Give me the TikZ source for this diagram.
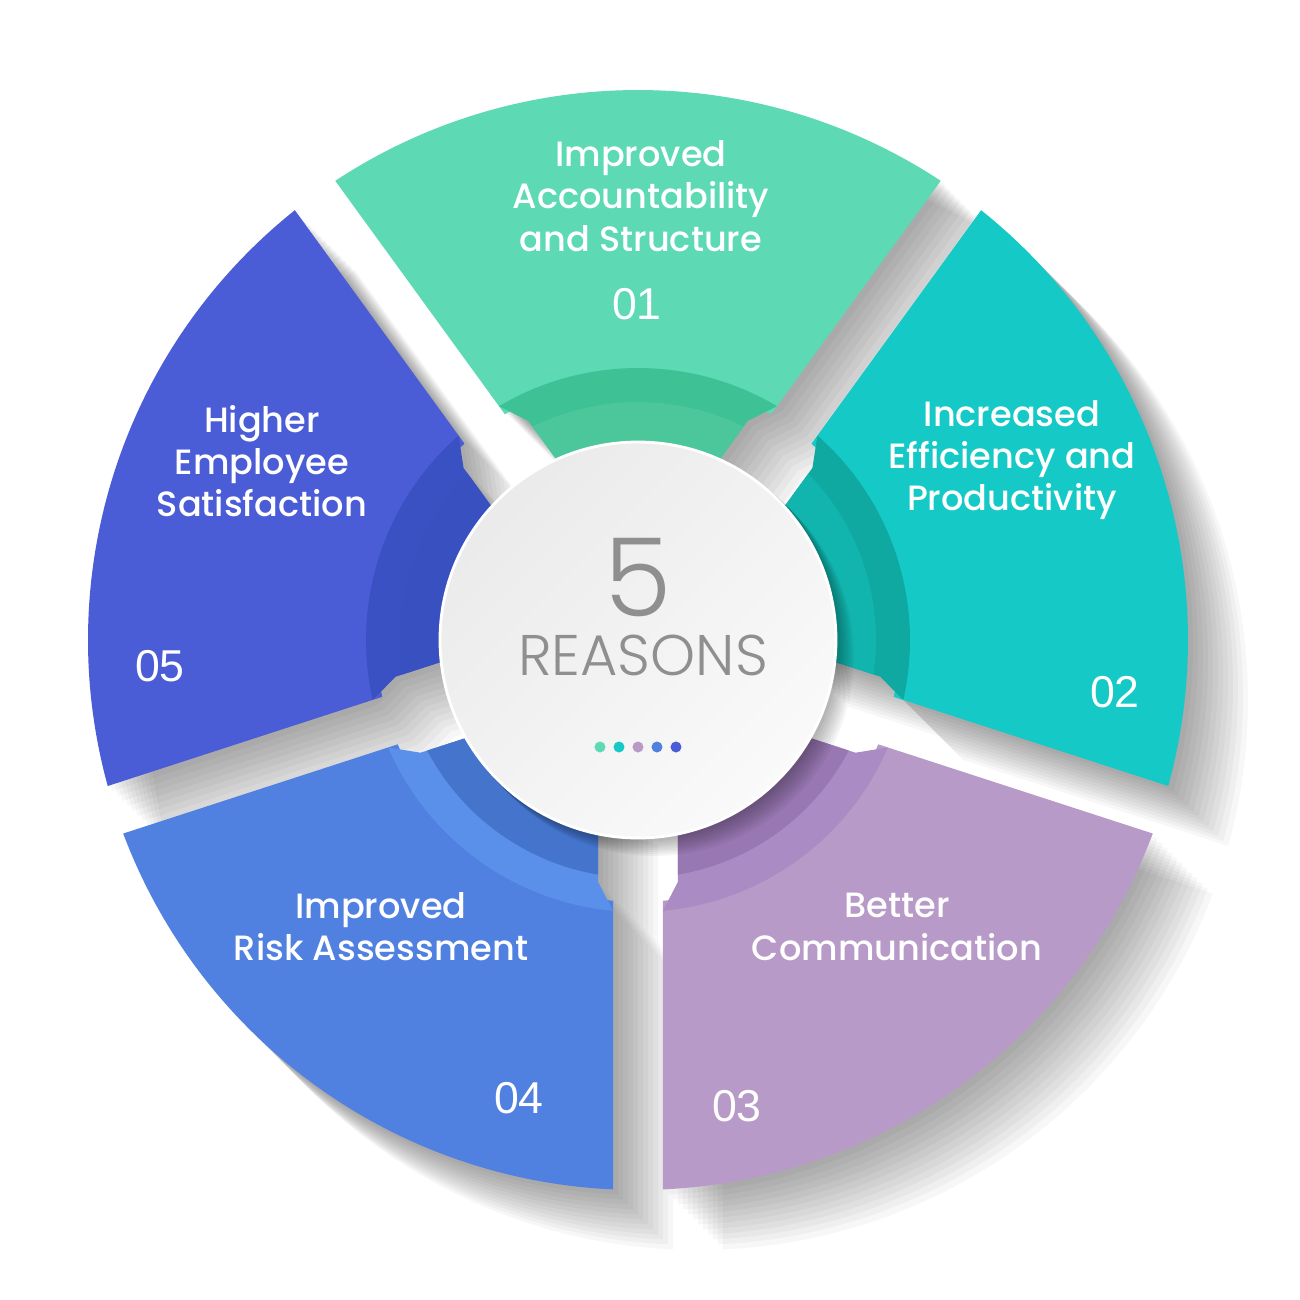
\documentclass[tikz,border=0pt]{standalone}
\usepackage{fontspec}
\newfontfamily\labelfont{Poppins Medium}
\newfontfamily\thinfont{Poppins Light}
\newfontfamily\numfont{Liberation Sans}
\usetikzlibrary{positioning}

\definecolor{mintA}{HTML}{5DD9B4}
\definecolor{mintB}{HTML}{3EC295}
\definecolor{mintC}{HTML}{4CC79C}
\definecolor{tealA}{HTML}{15C9C6}
\definecolor{tealB}{HTML}{10A9A1}
\definecolor{tealC}{HTML}{12B5AE}
\definecolor{lilacA}{HTML}{B89AC8}
\definecolor{lilacB}{HTML}{AA8BC3}
\definecolor{lilacC}{HTML}{9877B3}
\definecolor{blueA}{HTML}{5080E0}
\definecolor{blueB}{HTML}{5B90EA}
\definecolor{blueC}{HTML}{4474CC}
\definecolor{indigoA}{HTML}{4A5DD6}
\definecolor{indigoB}{HTML}{3951C2}
\definecolor{indigoC}{HTML}{3850C0}
\definecolor{hubtext}{HTML}{8F8F8F}

% corner angles of one petal (mid angle #1, 72 deg wide)
\newcommand{\petalangles}[1]{%
	\pgfmathsetmacro{\pa}{#1-36+asin(40/150)}%
	\pgfmathsetmacro{\pb}{#1-36+asin(40/245)}%
	\pgfmathsetmacro{\pc}{#1-36+asin(25/272)}%
	\pgfmathsetmacro{\pd}{#1-36+asin(25/550)}%
	\pgfmathsetmacro{\pe}{#1-36+asin(25/262)}%
	\pgfmathsetmacro{\ra}{#1-36+asin(40/238)}%
	\pgfmathsetmacro{\qa}{#1+36-asin(40/150)}%
	\pgfmathsetmacro{\qb}{#1+36-asin(40/245)}%
	\pgfmathsetmacro{\qc}{#1+36-asin(25/272)}%
	\pgfmathsetmacro{\qd}{#1+36-asin(25/550)}%
	\pgfmathsetmacro{\qe}{#1+36-asin(25/262)}%
	\pgfmathsetmacro{\rb}{#1+36-asin(40/238)}%
}

\tikzset{
	lbl/.style={text=white, align=center, font=\labelfont\fontsize{10}{12}\selectfont},
	num/.style={text=white, font=\numfont\fontsize{12.7}{14}\selectfont},
}

\begin{document}
\begin{tikzpicture}[x=0.1mm, y=0.1mm]
	\path[use as bounding box, fill=white] (-638,-660) rectangle (662,640);
	% ---- soft shadows ----
	\foreach \ang in {90,18,-54,-126,162}{
		\petalangles{\ang}
		\foreach \k in {1,...,12}{
			\fill[black, opacity=0.03, shift={(\k*5,-\k*5)}] (\pa:150) -- (\pb:245) -- (\pc:272) -- (\pd:550) arc[start angle=\pd, end angle=\qd, radius=550] -- (\qc:272) -- (\qb:245) -- (\qa:150) arc[start angle=\qa, end angle=\pa, radius=150] -- cycle;
		}
	}
	% ---- petals ----
	\foreach \ang/\outc/\stripec/\innc in {90/mintA/mintB/mintC, 18/tealA/tealB/tealC, -54/lilacA/lilacB/lilacC, -126/blueA/blueB/blueC, 162/indigoA/indigoB/indigoC}{
		\petalangles{\ang}
		\fill[\outc] (\pe:262) -- (\pd:550) arc[start angle=\pd, end angle=\qd, radius=550] -- (\qe:262) arc[start angle=\qe, end angle=\pe, radius=262] -- cycle;
		\fill[\stripec] (\pa:150) -- (\pb:245) -- (\pc:272) arc[start angle=\pc, end angle=\qc, radius=272] -- (\qb:245) -- (\qa:150) arc[start angle=\qa, end angle=\pa, radius=150] -- cycle;
		\fill[\innc] (\pa:150) -- (\ra:238) arc[start angle=\ra, end angle=\rb, radius=238] -- (\qa:150) arc[start angle=\qa, end angle=\pa, radius=150] -- cycle;
	}
	% ---- hub ----
	\foreach \k in {1,...,8}{
		\fill[black, opacity=0.04] (\k*2,-\k*2) circle[radius=200];
	}
	\node (hub) [circle, minimum size=39.6mm, inner sep=0pt, top color=black!8, bottom color=black!2, shading angle=45, draw=white, line width=0.8pt] at (0,0) {};
	\node (five) [text=hubtext, inner sep=0pt, font=\thinfont\fontsize{31}{31}\selectfont] at (0,62) {5};
	\node (reasons) [text=hubtext, inner sep=0pt, font=\thinfont\fontsize{16.3}{17}\selectfont] at (5,-15) {REASONS};
	\foreach \c [count=\i] in {mintA, tealA, lilacA, blueA, indigoA}{
		\fill[\c] ({(\i-3)*19},-107) circle[radius=5.5];
	}
	% ---- labels ----
	\node (l1) [lbl] at (3,444) {Improved\\Accountability\\and Structure};
	\node (n1) [num] at (-1,336) {01};
	\node (l2) [lbl] at (374,180) {Increased\\Efficiency and\\Productivity};
	\node (n2) [num] at (477,-52) {02};
	\node (l3) [lbl] at (259,-287) {Better\\Communication};
	\node (n3) [num] at (99,-466) {03};
	\node (l4) [lbl] at (-257,-287) {Improved\\Risk Assessment};
	\node (n4) [num] at (-119,-458) {04};
	\node (l5) [lbl] at (-376,179) {Higher\\Employee\\Satisfaction};
	\node (n5) [num] at (-478,-26) {05};
\end{tikzpicture}
\end{document}
